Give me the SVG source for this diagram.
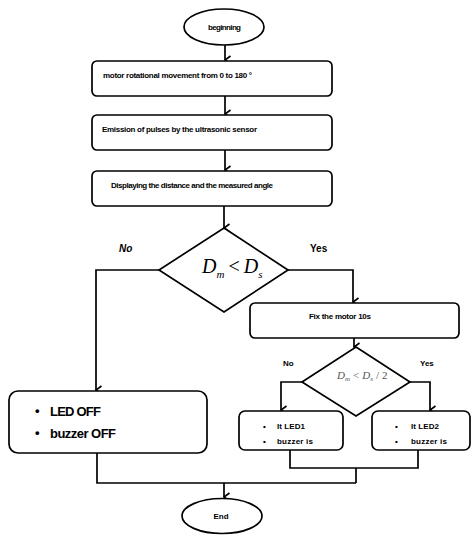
<svg xmlns="http://www.w3.org/2000/svg" width="474" height="539" viewBox="0 0 474 539">
<defs>
<marker id="arr" viewBox="0 0 10 10" refX="5" refY="9" markerWidth="10" markerHeight="10" markerUnits="userSpaceOnUse" orient="auto-start-reverse">
<path d="M1,3.5 L5,9 L9,3.5" fill="none" stroke="#000" stroke-width="1.7"/>
</marker>
</defs>
<style>
.sh{fill:#fff;stroke:#000;stroke-width:1.7}
.ln{fill:none;stroke:#000;stroke-width:1.7}
.t{font-family:"Liberation Sans",Arial,sans-serif;font-weight:bold;fill:#000}
.s{font-size:8px}
.b{font-size:13px}
.m{font-family:"Liberation Serif","Times New Roman",serif;font-style:italic}
</style>
<rect width="474" height="539" fill="#fff"/>
<g id="connectors">
<path class="ln" d="M225,45 V60" marker-end="url(#arr)"/>
<path class="ln" d="M225,96 V114" marker-end="url(#arr)"/>
<path class="ln" d="M225,150 V170" marker-end="url(#arr)"/>
<path class="ln" d="M224,206 V228" marker-end="url(#arr)"/>
<path class="ln" d="M159,270 H96 V390" marker-end="url(#arr)"/>
<path class="ln" d="M288,270 H353 V302" marker-end="url(#arr)"/>
<path class="ln" d="M354,338 V347" marker-end="url(#arr)"/>
<path class="ln" d="M302,382 H281 V410" marker-end="url(#arr)"/>
<path class="ln" d="M410,382 H430 V410" marker-end="url(#arr)"/>
<path class="ln" d="M290,450 V468 H418 V450"/>
<path class="ln" d="M356,468 V483"/>
<path class="ln" d="M97,453 V483 H356"/>
<path class="ln" d="M224,483 V497" marker-end="url(#arr)"/>
</g>
<g id="begin">
<ellipse class="sh" cx="224" cy="27" rx="40" ry="18"/>
<text class="t s" x="224.5" y="30" text-anchor="middle" textLength="33">beginning</text>
</g>
<g id="motor">
<rect class="sh" x="92" y="61" width="240" height="35" rx="5"/>
<text class="t s" x="103" y="78" textLength="149">motor rotational movement from 0 to 180 °</text>
</g>
<g id="emission">
<rect class="sh" x="92" y="115" width="240" height="35" rx="5"/>
<text class="t s" x="102" y="132" textLength="155">Emission of pulses by the ultrasonic sensor</text>
</g>
<g id="display">
<rect class="sh" x="92" y="171" width="240" height="35" rx="5"/>
<text class="t s" x="111" y="188" textLength="162">Displaying the distance and the measured angle</text>
</g>
<g id="decision1">
<polygon class="sh" points="224,228 288,270 224,312 159,270" stroke-width="1.4"/>
<text class="m" x="202" y="273" font-size="20">D<tspan font-size="11" dy="5">m</tspan><tspan font-style="normal" dy="-5" dx="4">&lt;</tspan><tspan dx="4">D</tspan><tspan font-size="11" dy="5">s</tspan></text>
<text class="t" x="119" y="252" font-size="10" font-style="italic">No</text>
<text class="t" x="310" y="252" font-size="10">Yes</text>
</g>
<g id="fix">
<rect class="sh" x="250" y="303" width="209" height="35" rx="5"/>
<text class="t s" x="309" y="319" textLength="62">Fix the motor 10s</text>
</g>
<g id="decision2">
<polygon class="sh" points="356,347 410,382 356,416 302,382" stroke-width="1.4"/>
<text class="m" x="337" y="379" font-size="11" fill="#555">D<tspan font-size="7" dy="2">m</tspan><tspan font-style="normal" dy="-2" dx="3">&lt;</tspan><tspan dx="3">D</tspan><tspan font-size="7" dy="2">s</tspan><tspan font-style="normal" dy="-2" dx="3">/</tspan><tspan font-style="normal" dx="3">2</tspan></text>
<text class="t s" x="283" y="366">No</text>
<text class="t s" x="420" y="366">Yes</text>
</g>
<g id="ledoff">
<rect class="sh" x="9" y="391" width="198" height="62" rx="9"/>
<text class="t b" x="35" y="415">•</text>
<text class="t b" x="50" y="416" textLength="51">LED OFF</text>
<text class="t b" x="35" y="437">•</text>
<text class="t b" x="50" y="438" textLength="66">buzzer OFF</text>
</g>
<g id="led1">
<rect class="sh" x="239" y="411" width="104" height="39" rx="6"/>
<text class="t s" x="263" y="429">•</text>
<text class="t s" x="277" y="429" textLength="28">It LED1</text>
<text class="t s" x="263" y="444">•</text>
<text class="t s" x="277" y="444" textLength="36">buzzer is</text>
</g>
<g id="led2">
<rect class="sh" x="372" y="411" width="98" height="39" rx="6"/>
<text class="t s" x="395" y="429">•</text>
<text class="t s" x="411" y="429" textLength="28">It LED2</text>
<text class="t s" x="395" y="444">•</text>
<text class="t s" x="411" y="444" textLength="36">buzzer is</text>
</g>
<g id="end">
<ellipse class="sh" cx="222" cy="516" rx="40" ry="17.5"/>
<text class="t s" x="221" y="519" text-anchor="middle">End</text>
</g>
</svg>
